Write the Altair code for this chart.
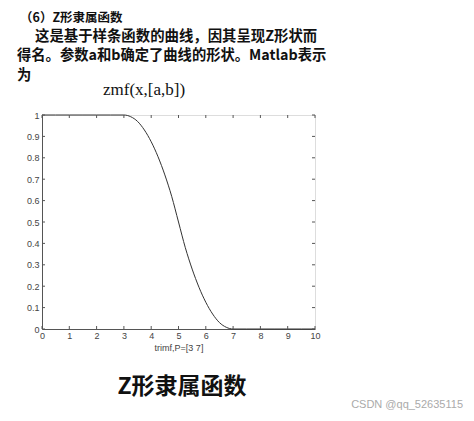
import altair as alt
import pandas as pd

# curve values
x_vals = [0, 0.5, 1, 1.5, 2, 2.5, 3, 3.25, 3.5, 3.75, 4, 4.25, 4.5, 4.75, 5,
          5.25, 5.5, 5.75, 6, 6.25, 6.5, 6.75, 7, 7.5, 8, 8.5, 9, 9.5, 10]
y_vals = [1, 1, 1, 1, 1, 1, 1, 0.992, 0.97, 0.93, 0.875, 0.805, 0.72, 0.62, 0.5,
          0.38, 0.28, 0.195, 0.125, 0.07, 0.03, 0.008, 0, 0, 0, 0, 0, 0, 0]

x_ticks = [0, 1, 2, 3, 4, 5, 6, 7, 8, 9, 10]
y_ticks = [0, 0.1, 0.2, 0.3, 0.4, 0.5, 0.6, 0.7, 0.8, 0.9, 1]

title_line1 = "（6）Z形隶属函数"
text_line2 = "这是基于样条函数的曲线，因其呈现Z形状而"
text_line3 = "得名。参数a和b确定了曲线的形状。Matlab表示"
text_line4 = "为"
formula = "zmf(x,[a,b])"
x_title = "trimf,P=[3 7]"
caption = "Z形隶属函数"
watermark = "CSDN @qq_52635115"

W, H = 273, 214

curve_df = pd.DataFrame({"x": x_vals, "y": y_vals})
xt_df = pd.DataFrame({"x": x_ticks})
yt_df = pd.DataFrame({"y": y_ticks})
one = alt.Data(values=[{"a": 1}])

xscale = alt.Scale(domain=[0, 10], nice=False)
yscale = alt.Scale(domain=[0, 1], nice=False)

xaxis = alt.Axis(values=x_ticks, title=x_title, grid=False, tickSize=0,
                 labelPadding=2, labelFontSize=9, labelColor="#444444",
                 labelOverlap=False, labelFlush=False,
                 labelFont="Liberation Sans", titleFont="Liberation Sans",
                 titleFontSize=9, titleFontWeight="normal", titleColor="#444444",
                 titleY=18, titleBaseline="middle", domainColor="#555555")
yaxis = alt.Axis(values=y_ticks, format=".1~f", title=None, grid=False, tickSize=0,
                 labelPadding=3, labelFontSize=9, labelColor="#444444",
                 labelOverlap=False, labelFlush=False,
                 labelFont="Liberation Sans", domainColor="#555555")

curve = alt.Chart(curve_df).mark_line(color="#333333", strokeWidth=1, interpolate="monotone").encode(
    x=alt.X("x:Q", scale=xscale, axis=xaxis),
    y=alt.Y("y:Q", scale=yscale, axis=yaxis),
)

tick_color = "#555555"
xb = alt.Chart(xt_df).mark_rule(color=tick_color, strokeWidth=1).encode(
    x=alt.X("x:Q", scale=xscale, axis=xaxis), y=alt.value(H), y2=alt.value(H - 3))
xtop = alt.Chart(xt_df).mark_rule(color=tick_color, strokeWidth=1).encode(
    x=alt.X("x:Q", scale=xscale, axis=xaxis), y=alt.value(0), y2=alt.value(3))
yl = alt.Chart(yt_df).mark_rule(color=tick_color, strokeWidth=1).encode(
    y=alt.Y("y:Q", scale=yscale, axis=yaxis), x=alt.value(0), x2=alt.value(3))
yr = alt.Chart(yt_df).mark_rule(color=tick_color, strokeWidth=1).encode(
    y=alt.Y("y:Q", scale=yscale, axis=yaxis), x=alt.value(W), x2=alt.value(W - 3))


def txt(s, x, y, size, weight="bold", font="Noto Sans CJK SC", color="#111111", align="left"):
    return alt.Chart(one).mark_text(text=s, align=align, baseline="middle", fontSize=size,
                                    fontWeight=weight, font=font, color=color).encode(
        x=alt.value(x), y=alt.value(y))


texts = [
    txt(title_line1, -22, -97, 12.5),
    txt(text_line2, -7, -78, 14.4),
    txt(text_line3, -25, -59, 14.3),
    txt(text_line4, -25, -39, 14.3),
    txt(formula, 61, -25, 17, weight="normal", font="Liberation Serif"),
    txt(caption, 140, 272, 23, align="center"),
    txt(watermark, 421, 290, 11, weight="normal", font="Liberation Sans", color="#aaaaaa", align="right"),
]

chart = alt.layer(curve, xb, xtop, yl, yr, *texts).properties(
    width=W, height=H,
    autosize=alt.AutoSizeParams(type="none"),
    padding={"left": 34, "top": 107, "right": 150, "bottom": 84},
).configure_view(stroke="#555555", strokeWidth=1).configure(background="white")

chart.save("out.html", embed_options={"renderer": "svg", "actions": False})
